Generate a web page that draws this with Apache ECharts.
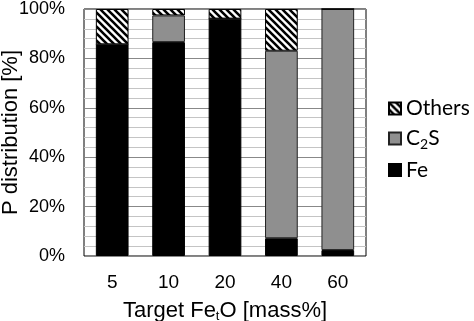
<!DOCTYPE html>
<html><head><meta charset="utf-8">
<script src="https://cdn.jsdelivr.net/npm/echarts@6/dist/echarts.min.js"></script>
<style>html,body{margin:0;padding:0;background:#fff}#c{width:474px;height:321px}</style>
</head><body><div id="c"></div>
<script>
const categories = ['5', '10', '20', '40', '60'];
const feValues = [85.7, 86.6, 96.1, 7.2, 2.4];
const c2sValues = [0, 10.8, 0, 75.9, 97.6];
const othersValues = [14.3, 2.6, 3.9, 16.9, 0];
const yTicks = [0, 20, 40, 60, 80, 100];

const P = 7;
const pc = document.createElement('canvas');
pc.width = P; pc.height = P;
const g = pc.getContext('2d');
g.fillStyle = '#fff'; g.fillRect(0, 0, P, P);
g.strokeStyle = '#000'; g.lineWidth = 2.6;
g.beginPath();
g.moveTo(-2, -2); g.lineTo(P + 2, P + 2);
g.moveTo(-P - 2, -2); g.lineTo(2, P + 2);
g.moveTo(P - 2, -2); g.lineTo(2 * P + 2, P + 2);
g.stroke();
const hatch = { image: pc, repeat: 'repeat' };

const chart = echarts.init(document.getElementById('c'));
const font = 'Liberation Sans, Arial, sans-serif';
const lfont = 'Lato, Open Sans, sans-serif';
chart.setOption({
  animation: false,
  grid: { left: 84, right: 108, top: 9, bottom: 65, show: true, borderColor: '#000', borderWidth: 1,
    backgroundColor: 'transparent', outerBoundsMode: 'none', containLabel: false },
  legend: {
    orient: 'vertical', left: 383, top: 92, itemWidth: 12, itemHeight: 12, itemGap: 7,
    icon: 'rect',
    data: ['Others', 'C2S', 'Fe'],
    textStyle: { fontFamily: lfont, fontSize: 21, lineHeight: 23, color: '#000',
      rich: { s: { fontSize: 14, fontFamily: lfont, color: '#000', padding: [12, 0, 0, 0] }, n: { fontSize: 21, fontFamily: lfont, color: '#000' } } },
    formatter: function (n) { return n === 'C2S' ? '{n|C}{s|2}{n|S}' : n; }
  },
  xAxis: {
    type: 'category', data: categories,
    axisLine: { show: false }, axisTick: { show: false },
    axisLabel: { fontSize: 19, color: '#000', fontFamily: font, margin: 17 },
    name: '{a|Target Fe}{b|t}{a|O [mass%]}', nameLocation: 'middle', nameGap: 42, nameMoveOverlap: false,
    nameTextStyle: { rich: { a: { fontSize: 22, color: '#000', fontFamily: font }, b: { fontSize: 13, color: '#000', fontFamily: font, padding: [12, 0, 0, 0] } } }
  },
  yAxis: {
    type: 'value', min: 0, max: 100, interval: 20,
    axisLine: { show: false }, axisTick: { show: false },
    axisLabel: { fontSize: 18, color: '#000', fontFamily: font, margin: 19,
      formatter: function (v) { return yTicks.indexOf(v) >= 0 ? v + '%' : ''; } },
    splitLine: { show: true, lineStyle: { color: '#888', width: 1 } },
    minorTick: { show: false, splitNumber: 5 },
    minorSplitLine: { show: true, lineStyle: { color: '#c4c4c4', width: 1 } },
    name: 'P distribution [%]', nameLocation: 'middle', nameGap: 62, nameMoveOverlap: false,
    nameTextStyle: { fontSize: 22, color: '#000', fontFamily: font }
  },
  series: [
    { name: 'Fe', type: 'bar', stack: 'a', data: feValues, barWidth: '58%', itemStyle: { color: '#000', borderColor: '#000', borderWidth: 1 } },
    { name: 'C2S', type: 'bar', stack: 'a', data: c2sValues, itemStyle: { color: '#8f8f8f', borderColor: '#222', borderWidth: 1 } },
    { name: 'Others', type: 'bar', stack: 'a', data: othersValues, itemStyle: { color: hatch, borderColor: '#000', borderWidth: 1 } }
  ]
});
</script></body></html>
